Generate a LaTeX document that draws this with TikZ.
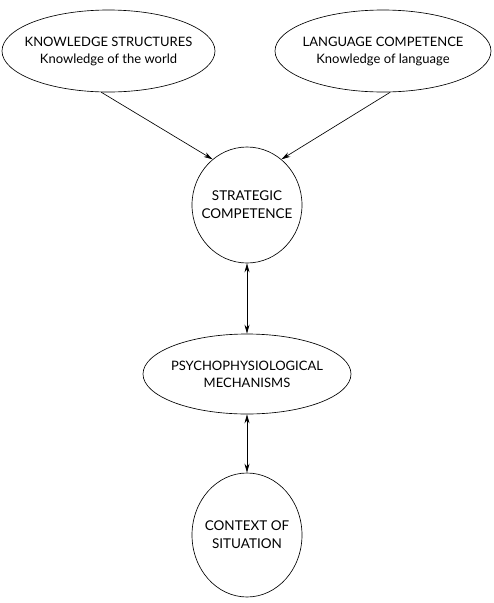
\documentclass[tikz,border=0pt]{standalone}
\usepackage{fontspec}
\setmainfont{Lato}
\usetikzlibrary{shapes.geometric,arrows.meta,positioning}

\begin{document}
\begin{tikzpicture}[x=1pt, y=-1pt,
	on grid,
	line width=0.65pt,
	oval/.style={ellipse, draw, inner xsep=-20pt, inner ysep=0pt, align=center,
		font=\fontsize{13}{17}\selectfont},
	link/.style={-{Stealth[length=9pt,width=5pt]}},
	both/.style={{Stealth[length=9pt,width=5pt]}-{Stealth[length=9pt,width=5pt]}}]

\useasboundingbox (0,0) rectangle (494,603);

% Centre
\node[oval, minimum width=110pt, minimum height=116pt,
	font=\fontsize{13.5}{18}\selectfont] (strat) at (247,205)
	{STRATEGIC\\COMPETENCE};

% Top
\node[oval, minimum width=213pt, minimum height=82pt,
	above left=154pt and 138.5pt of strat] (kstruct)
	{KNOWLEDGE STRUCTURES\\Knowledge of the world};

\node[oval, minimum width=216pt, minimum height=82pt,
	above right=154pt and 136pt of strat] (langcomp)
	{LANGUAGE COMPETENCE\\Knowledge of language};

% Below
\node[oval, minimum width=208pt, minimum height=80pt,
	below=169pt of strat] (psycho)
	{PSYCHOPHYSIOLOGICAL\\MECHANISMS};

\node[oval, minimum width=110pt, minimum height=124pt,
	font=\fontsize{13.5}{18}\selectfont,
	below=161pt of psycho] (context)
	{CONTEXT OF\\SITUATION};

% connections
\draw[link] (kstruct.-100) -- (strat.127);
\draw[link] (langcomp.-80) -- (strat.53);
\draw[both] (strat.south) -- (psycho.north);
\draw[both] (psycho.south) -- (context.north);

\end{tikzpicture}
\end{document}
